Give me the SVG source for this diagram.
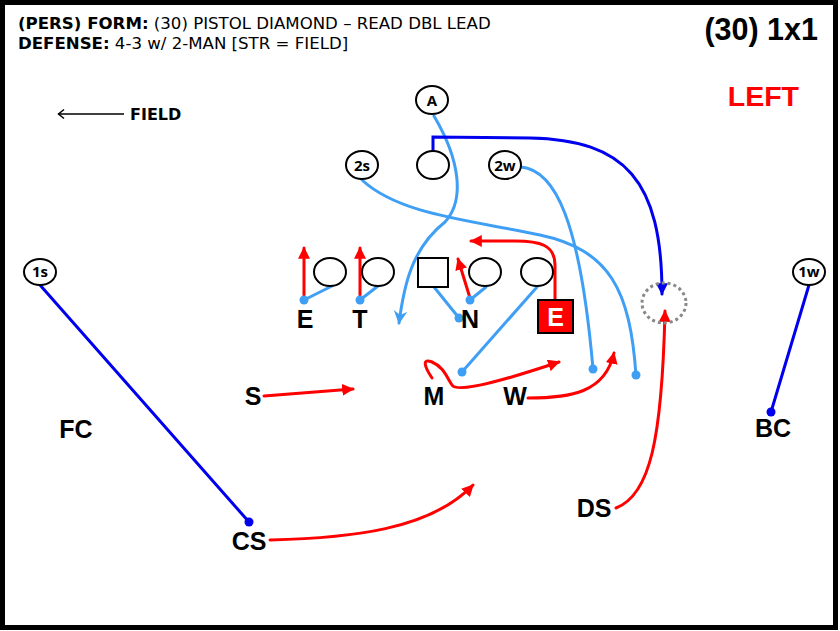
<svg xmlns="http://www.w3.org/2000/svg" width="840" height="631" viewBox="0 0 840 631">
<style>
.hdr{font-family:"DejaVu Sans",Verdana,sans-serif;font-size:16.6px;fill:#000}
.b{font-weight:bold}
.lbl{font-family:"Liberation Sans",Arial,sans-serif;font-weight:bold;font-size:25px;fill:#000;text-anchor:middle}
.node{fill:#fff;stroke:#000;stroke-width:2}
.ntx{font-family:"Open Sans","Liberation Sans",sans-serif;font-weight:bold;font-size:15px;fill:#000;text-anchor:middle}
.lb{fill:none;stroke:#3F9FF5;stroke-width:3;stroke-linecap:round}
.db{fill:none;stroke:#0000EE;stroke-width:3;stroke-linecap:round}
.rd{fill:none;stroke:#FF0000;stroke-width:3;stroke-linecap:round}
.dotlb{fill:#3F9FF5}
.dotdb{fill:#0000EE}
</style>
<defs>
<marker id="ar" viewBox="0 0 10 10" refX="9" refY="5" markerWidth="4" markerHeight="4" orient="auto" markerUnits="strokeWidth"><path d="M0,0 L10,5 L0,10 z" fill="#FF0000"/></marker>
<marker id="alb" viewBox="0 0 10 10" refX="9" refY="5" markerWidth="4.5" markerHeight="4.5" orient="auto" markerUnits="strokeWidth"><path d="M0,0 L10,5 L0,10 L3,5 z" fill="#3F9FF5"/></marker>
<marker id="adb" viewBox="0 0 10 10" refX="9" refY="5" markerWidth="4" markerHeight="4" orient="auto" markerUnits="strokeWidth"><path d="M0,0 L10,5 L0,10 z" fill="#0000EE"/></marker>
</defs>
<rect x="2.5" y="2.5" width="833" height="625" fill="#fff" stroke="#000" stroke-width="5"/>

<g id="header">
<text class="hdr" x="18" y="29"><tspan class="b">(PERS) FORM:</tspan> (30) PISTOL DIAMOND – READ DBL LEAD</text>
<text class="hdr" x="18" y="49"><tspan class="b">DEFENSE:</tspan> 4-3 w/ 2-MAN [STR = FIELD]</text>
<text x="818" y="40" font-family="Liberation Sans,Arial,sans-serif" font-weight="bold" font-size="30.5" text-anchor="end">(30) 1x1</text>
<text x="799" y="106" font-family="Liberation Sans,Arial,sans-serif" font-weight="bold" font-size="28.5" fill="#FF0000" text-anchor="end">LEFT</text>
</g>

<g id="field">
<line x1="58" y1="114" x2="124" y2="114" stroke="#000" stroke-width="1.5"/>
<path d="M64,109.5 L58.5,114 L64,118.5" fill="none" stroke="#000" stroke-width="1.5"/>
<text x="130" y="120" font-family="DejaVu Sans,Verdana,sans-serif" font-weight="bold" font-size="16">FIELD</text>
</g>

<g id="connectors">
<!-- light blue offense routes -->
<path class="lb" d="M304 300 L332 286"/>
<path class="lb" d="M360 300 L378 286"/>
<path class="lb" d="M470 300 L486 287"/>
<path class="lb" d="M434 287 L459 318"/>
<path class="lb" d="M537 287 L462 372"/>
<path class="lb" d="M434 116 C460 160 465 200 445 222 C412 248 404 285 399 323" marker-end="url(#alb)"/>
<path class="lb" d="M362 180 C400 215 470 220 540 235 C610 250 630 290 636 375"/>
<path class="lb" d="M521 167 C555 170 580 220 593 369"/>
<!-- dark blue -->
<path class="db" d="M433 152 L433 137 L530 138 C625 140 662 180 662 294" marker-end="url(#adb)"/>
<path class="db" d="M40 285 L249 522"/>
<path class="db" d="M809 285 L771 412"/>
<!-- red defense -->
<path class="rd" d="M304 300 L304 248" marker-end="url(#ar)"/>
<path class="rd" d="M360 300 L360 248" marker-end="url(#ar)"/>
<path class="rd" d="M470 298 L458 259" marker-end="url(#ar)"/>
<path class="rd" d="M555 300 L555 265 C555 245 540 241 515 241 L471 241" marker-end="url(#ar)"/>
<path class="rd" d="M264 396 L353 389" marker-end="url(#ar)"/>
<path class="rd" d="M432 378 C424 366 422 358 432 362 C444 367 447 378 452 385 C458 395 520 375 559 362" marker-end="url(#ar)"/>
<path class="rd" d="M528 398 C570 398 605 393 614 353" marker-end="url(#ar)"/>
<path class="rd" d="M270 540 C350 538 430 530 473 485" marker-end="url(#ar)"/>
<path class="rd" d="M616 508 C650 495 662 440 665 311" marker-end="url(#ar)"/>
<!-- dots -->
<circle class="dotlb" cx="304" cy="300" r="4.5"/>
<circle class="dotlb" cx="360" cy="300" r="4.5"/>
<circle class="dotlb" cx="470" cy="300" r="4.5"/>
<circle class="dotlb" cx="459" cy="318" r="4.5"/>
<circle class="dotlb" cx="462" cy="372" r="4.5"/>
<circle class="dotlb" cx="593" cy="369" r="4.5"/>
<circle class="dotlb" cx="636" cy="375" r="4.5"/>
<circle class="dotdb" cx="249" cy="522" r="4.5"/>
<circle class="dotdb" cx="771" cy="412" r="4.5"/>
</g>

<g id="target"><ellipse cx="664" cy="303" rx="22" ry="20" fill="none" stroke="#888" stroke-width="3" stroke-dasharray="3 3"/></g>

<g id="A"><ellipse class="node" cx="432" cy="100" rx="16" ry="14"/><text class="ntx" x="432" y="105.5">A</text></g>
<g id="n2s"><ellipse class="node" cx="362" cy="165" rx="16" ry="14"/><text class="ntx" x="362" y="170.5">2s</text></g>
<g id="QB"><ellipse class="node" cx="433" cy="165" rx="16" ry="14"/></g>
<g id="n2w"><ellipse class="node" cx="505" cy="165" rx="16" ry="14"/><text class="ntx" x="505" y="170.5">2w</text></g>
<g id="n1s"><ellipse class="node" cx="40" cy="272" rx="16" ry="13"/><text class="ntx" x="40" y="277" font-size="13">1s</text></g>
<g id="n1w"><ellipse class="node" cx="809" cy="272" rx="16" ry="13"/><text class="ntx" x="809" y="277" font-size="13">1w</text></g>
<g id="LT"><ellipse class="node" cx="330" cy="272" rx="16" ry="14"/></g>
<g id="LG"><ellipse class="node" cx="378" cy="272" rx="16" ry="14"/></g>
<g id="C"><rect class="node" x="418" y="258" width="30" height="29"/></g>
<g id="RG"><ellipse class="node" cx="485" cy="272" rx="16" ry="14"/></g>
<g id="RT"><ellipse class="node" cx="537" cy="272" rx="16" ry="14"/></g>

<g id="defE"><text class="lbl" x="305" y="328" font-size="24">E</text></g>
<g id="defT"><text class="lbl" x="360" y="328" font-size="24">T</text></g>
<g id="defN"><text class="lbl" x="470" y="328" font-size="24">N</text></g>
<g id="defE2"><rect x="538" y="300" width="35" height="33" fill="#FF0000" stroke="#000" stroke-width="2"/><text class="lbl" x="555.5" y="326" font-size="24" style="fill:#fff">E</text></g>
<g id="defS"><text class="lbl" x="253" y="405">S</text></g>
<g id="defM"><text class="lbl" x="434" y="405">M</text></g>
<g id="defW"><text class="lbl" x="515" y="405">W</text></g>
<g id="defFC"><text class="lbl" x="76" y="438">FC</text></g>
<g id="defBC"><text class="lbl" x="773" y="437">BC</text></g>
<g id="defCS"><text class="lbl" x="249" y="550">CS</text></g>
<g id="defDS"><text class="lbl" x="594" y="517">DS</text></g>
</svg>
